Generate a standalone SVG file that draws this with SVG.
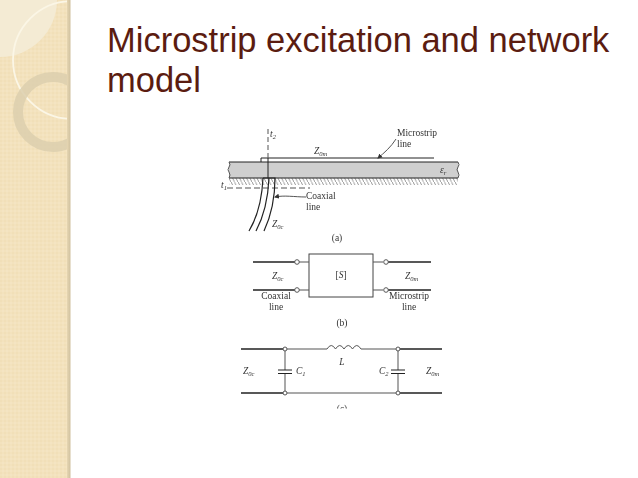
<svg xmlns="http://www.w3.org/2000/svg" width="638" height="478" viewBox="0 0 638 478">
<style>
.t{font-family:"Liberation Sans",Arial,sans-serif;font-size:34.500px;fill:#5b1c10}
.s{font-family:"Liberation Serif","Times New Roman",serif;font-size:9.500px;fill:#333}
.i{font-style:italic}
.sub{font-size:6.500px}
.b{fill:none;stroke:#222;stroke-width:1.600}
.n{fill:none;stroke:#555;stroke-width:1}
.o{fill:#fff;stroke:#555;stroke-width:1}
.fig{filter:url(#soft)}
</style>
<defs>
<filter id="soft" x="-5%" y="-5%" width="110%" height="110%"><feGaussianBlur stdDeviation="0.300"/></filter>
<pattern id="h" width="3.500" height="7" patternUnits="userSpaceOnUse"><path d="M0 0L3.500 7" stroke="#777" stroke-width="0.800"/></pattern>
<pattern id="dots" width="4" height="4" patternUnits="userSpaceOnUse"><rect width="4" height="4" fill="#f3e2bd"/><circle cx="1" cy="1" r="0.800" fill="#efdcb2"/><circle cx="3" cy="3" r="0.800" fill="#f6e8c8"/></pattern>
<marker id="a" markerWidth="5" markerHeight="5" refX="4" refY="2.500" orient="auto"><path d="M0 0L5 2.500L0 5z" fill="#333"/></marker>
<linearGradient id="e" x1="0" x2="1"><stop offset="0" stop-color="#e6d6b2"/><stop offset="1" stop-color="#cfc09e"/></linearGradient>
<clipPath id="pc"><rect width="70" height="478"/></clipPath>
<clipPath id="cut"><rect x="320" y="404" width="50" height="4.500"/></clipPath>
</defs>
<rect width="638" height="478" fill="#fff"/>
<g id="panel">
<rect width="70" height="478" fill="url(#dots)"/>
<path d="M0 0H57A57 57 0 0 1 0 57Z" fill="#f4ebd4"/>
<g clip-path="url(#pc)">
<circle cx="72" cy="60" r="59" fill="none" stroke="#fbf6e6" stroke-width="1.800"/>
<circle cx="53" cy="112" r="35" fill="none" stroke="#dccfae" stroke-width="10" stroke-opacity="0.850"/>
</g>
<rect x="67" width="3.500" height="478" fill="url(#e)"/>
</g>
<g id="title">
<text class="t" x="107" y="52">Microstrip excitation and network</text>
<text class="t" x="107" y="92">model</text>
</g>
<g id="fig-a" class="fig">
<rect x="229" y="162" width="229" height="16" fill="#cfcfcf"/>
<rect x="229" y="178" width="229" height="7" fill="url(#h)"/>
<path class="b" style="stroke-width:1" d="M229 162H458M229 178H458"/>
<path class="n" d="M229 162q2 3 0 5q-2 3 0 5q2 3 0 6M458 162q2 3 0 5q-2 3 0 5q2 3 0 6"/>
<path class="b" style="stroke-width:1" d="M261 162V158H434"/>
<path class="n" stroke-dasharray="5 3" d="M268 129V158"/>
<path class="b" style="stroke-width:1" d="M268 158V178"/>
<path class="n" stroke-dasharray="6 3" d="M227 188H310"/>
<path class="b" style="stroke-width:1.200" d="M263 178H275C275 198 271 216 264 231M269 178C268 200 264 216 256 231M263 178C262 200 258 216 249 231"/>
<path class="n" marker-end="url(#a)" d="M306 197C295 197 284 195 275 197"/>
<path class="n" marker-end="url(#a)" d="M396 139C391 147 384 153 378 158"/>
<text class="s i" x="270" y="137">t<tspan class="sub" dy="2">2</tspan></text>
<text class="s i" x="221" y="188">t<tspan class="sub" dy="2">1</tspan></text>
<text class="s i" x="314" y="154">Z<tspan class="sub" dy="2">0m</tspan></text>
<text class="s" x="397" y="136">Microstrip</text>
<text class="s" x="397" y="147">line</text>
<text class="s i" x="440" y="173">ε<tspan class="sub" dy="2">r</tspan></text>
<text class="s" x="306" y="199">Coaxial</text>
<text class="s" x="306" y="210">line</text>
<text class="s i" x="272" y="227">Z<tspan class="sub" dy="2">0c</tspan></text>
<text class="s" x="337" y="241" text-anchor="middle">(a)</text>
</g>
<g id="fig-b" class="fig">
<rect x="309" y="254" width="64" height="43" fill="#fff" stroke="#444" stroke-width="1"/>
<path class="b" d="M253 262H295M253 290H295M387 262H431M387 290H431"/>
<path class="n" d="M299 262H309M299 290H309M373 262H383M373 290H383"/>
<circle class="o" cx="297" cy="262" r="2.300"/>
<circle class="o" cx="297" cy="290" r="2.300"/>
<circle class="o" cx="386" cy="262" r="2.300"/>
<circle class="o" cx="386" cy="290" r="2.300"/>
<text class="s i" x="272" y="279">Z<tspan class="sub" dy="2">0c</tspan></text>
<text class="s i" x="405" y="279">Z<tspan class="sub" dy="2">0m</tspan></text>
<text class="s" x="341" y="278" text-anchor="middle">[<tspan class="i">S</tspan>]</text>
<text class="s" x="276" y="299" text-anchor="middle">Coaxial</text>
<text class="s" x="276" y="310" text-anchor="middle">line</text>
<text class="s" x="409" y="299" text-anchor="middle">Microstrip</text>
<text class="s" x="409" y="310" text-anchor="middle">line</text>
<text class="s" x="342" y="326" text-anchor="middle">(b)</text>
</g>
<g id="fig-c" class="fig">
<path class="b" d="M241 349H284M241 393H284M398 349H442M398 393H442"/>
<path class="n" d="M285 349H327q4.250-7 8.500 0q4.250-7 8.500 0q4.250-7 8.500 0q4.250-7 8.500 0H398M285 393H398"/>
<path class="n" d="M285 349V370M285 373.500V393M398 349V370M398 373.500V393"/>
<path class="b" d="M278 370H292M278 373.500H292M391 370H405M391 373.500H405" style="stroke-width:1.200"/>
<circle class="o" cx="285" cy="349" r="2"/>
<circle class="o" cx="285" cy="393" r="2"/>
<circle class="o" cx="398" cy="349" r="2"/>
<circle class="o" cx="398" cy="393" r="2"/>
<text class="s i" x="243" y="374">Z<tspan class="sub" dy="2">0c</tspan></text>
<text class="s i" x="296" y="374">C<tspan class="sub" dy="2">1</tspan></text>
<text class="s i" x="342" y="365" text-anchor="middle">L</text>
<text class="s i" x="379" y="374">C<tspan class="sub" dy="2">2</tspan></text>
<text class="s i" x="426" y="374">Z<tspan class="sub" dy="2">0m</tspan></text>
<text class="s" x="342" y="412" text-anchor="middle" clip-path="url(#cut)">(c)</text>
</g>
</svg>
